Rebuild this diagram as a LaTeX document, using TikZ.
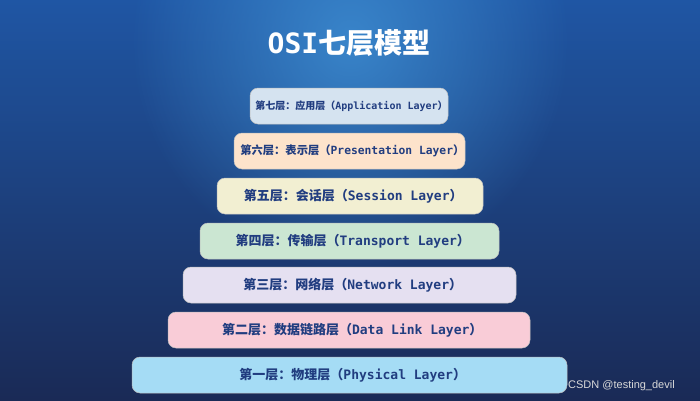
\documentclass[tikz,border=0pt]{standalone}
\usepackage{fontspec}
\usetikzlibrary{fadings}
\newfontfamily\cjk{Noto Sans CJK SC}
\newfontfamily\mono{DejaVu Sans Mono}
\newfontfamily\wm{Liberation Sans}
\definecolor{bgtop}{HTML}{1F56A4}
\definecolor{bgbot}{HTML}{1A2A56}
\definecolor{glow}{HTML}{3E8ED2}
\definecolor{txt}{HTML}{213D80}
\definecolor{c7}{HTML}{D5E3F0}
\definecolor{c6}{HTML}{FDE3CB}
\definecolor{c5}{HTML}{F2EFD2}
\definecolor{c4}{HTML}{CBE6D2}
\definecolor{c3}{HTML}{E5E0F1}
\definecolor{c2}{HTML}{F9CCD7}
\definecolor{c1}{HTML}{A5DCF5}
\tikzfading[name=myglow, inner color=transparent!0, outer color=transparent!100]
\newcommand{\laytext}[3]{\fontsize{#1}{#1}\selectfont\bfseries\hspace*{0.5em}\cjk #2（\mono #3\cjk ）}
\tikzset{
  layerbox/.style={draw=white!75!black, line width=0.5pt, rounded corners=8pt, minimum height=36pt, inner sep=0pt, text=txt},
}
\begin{document}
\begin{tikzpicture}[x=1pt,y=-1pt]
\useasboundingbox (0,0) rectangle (700,400);
\fill[top color=bgtop, bottom color=bgbot] (0,0) rectangle (700,400);
\fill[glow, path fading=myglow, opacity=0.85] (350,40) ellipse [x radius=220, y radius=230];
\node[text=white, font=\fontsize{28}{28}\selectfont\bfseries] (title) at (349,43) {\mono OSI\cjk 七层模型};
\node[layerbox, fill=c7, minimum width=198pt] (l7) at (349,106) {\laytext{10}{第七层：应用层}{Application Layer}};
\node[layerbox, fill=c6, minimum width=231pt] (l6) at (349.5,151) {\laytext{11.3}{第六层：表示层}{Presentation Layer}};
\node[layerbox, fill=c5, minimum width=266pt] (l5) at (350,196) {\laytext{13}{第五层：会话层}{Session Layer}};
\node[layerbox, fill=c4, minimum width=299pt] (l4) at (349.5,241) {\laytext{13}{第四层：传输层}{Transport Layer}};
\node[layerbox, fill=c3, minimum width=333pt] (l3) at (349.5,285) {\laytext{13}{第三层：网络层}{Network Layer}};
\node[layerbox, fill=c2, minimum width=362pt] (l2) at (349,330) {\laytext{13}{第二层：数据链路层}{Data Link Layer}};
\node[layerbox, fill=c1, minimum width=435pt] (l1) at (349.5,375) {\laytext{13}{第一层：物理层}{Physical Layer}};
\node[anchor=west, text=white!85!black, font=\wm\fontsize{11}{11}\selectfont, inner sep=0pt] (wm) at (568,386) {CSDN @testing\_devil};
\end{tikzpicture}
\end{document}
